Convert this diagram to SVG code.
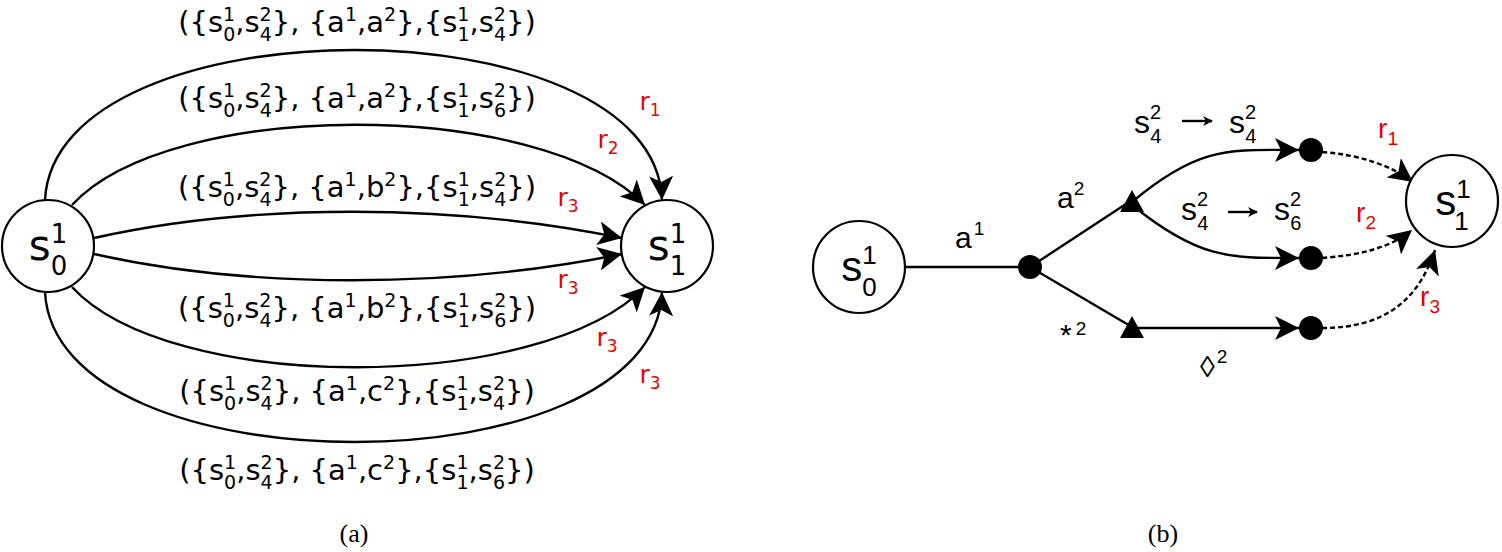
<svg xmlns="http://www.w3.org/2000/svg" width="1502" height="552" viewBox="0 0 1502 552">
<style>
text{font-family:"DejaVu Sans",sans-serif;fill:#000}
.l{font-size:29px;text-anchor:middle}
.s{font-size:19px}
.r{font-size:25px;fill:#e00;text-anchor:middle}
.rb{font-family:"Liberation Sans",sans-serif;font-size:28px;fill:#e00;text-anchor:middle}
.b{font-family:"Liberation Sans",sans-serif}
.cap{font-family:"Liberation Serif",serif;font-size:26px;text-anchor:middle}
.n{fill:#fff;stroke:#000;stroke-width:2.2}
.e{fill:none;stroke:#000;stroke-width:2.4}
.d{fill:none;stroke:#000;stroke-width:2.4;stroke-dasharray:5,3}
</style>
<defs>
<marker id="a" viewBox="0 0 10 10" refX="9" refY="5" markerWidth="12" markerHeight="10" markerUnits="userSpaceOnUse" orient="auto"><path d="M0,0 L10,5 L0,10 L3,5z" fill="#000"/></marker>
<marker id="b" viewBox="0 0 10 10" refX="10" refY="5" markerWidth="24" markerHeight="24" markerUnits="userSpaceOnUse" orient="auto"><path d="M0,0 L10,5 L0,10 L2.5,5z" fill="#000"/></marker>
</defs>
<g id="edges">
<path class="e" marker-end="url(#b)" d="M45,200 C55,0 655,0 662,200"/>
<path class="e" marker-end="url(#b)" d="M72,205 C170,98 540,98 645,205"/>
<path class="e" marker-end="url(#b)" d="M94,238 C250,203 450,203 622,238"/>
<path class="e" marker-end="url(#b)" d="M94,254 C250,289 450,289 622,254"/>
<path class="e" marker-end="url(#b)" d="M72,287 C170,394 540,394 645,287"/>
<path class="e" marker-end="url(#b)" d="M45,292 C55,492 655,492 662,292"/>
<path class="e" d="M905,267 L1030,267 L1132,200 M1030,267 L1132,327"/>
<path class="e" marker-end="url(#b)" d="M1132,202 C1200,145 1230,150 1299,150"/>
<path class="e" marker-end="url(#b)" d="M1132,205 C1200,260 1230,258 1299,258"/>
<path class="e" marker-end="url(#b)" d="M1132,328 L1299,328"/>
<path class="d" marker-end="url(#b)" d="M1322,152 C1360,155 1390,165 1413,182"/>
<path class="d" marker-end="url(#b)" d="M1322,258 C1360,255 1390,248 1412,230"/>
<path class="d" marker-end="url(#b)" d="M1322,328 C1390,328 1420,295 1435,250"/>
</g>
<g id="s0a"><ellipse class="n" cx="48" cy="246" rx="46" ry="46"/><text x="48" y="260" font-size="42" text-anchor="middle">s<tspan font-size="26" dy="-17">1</tspan><tspan font-size="26" dx="-16.5" dy="32">0</tspan></text></g>
<g id="s1a"><ellipse class="n" cx="667" cy="246" rx="46" ry="46"/><text x="667" y="260" font-size="42" text-anchor="middle">s<tspan font-size="26" dy="-17">1</tspan><tspan font-size="26" dx="-16.5" dy="32">1</tspan></text></g>
<g id="labels">
<text class="l" x="357" y="32">({s<tspan class="s" dy="-11">1</tspan><tspan class="s" dx="-12" dy="20">0</tspan><tspan dy="-9">,s</tspan><tspan class="s" dy="-11">2</tspan><tspan class="s" dx="-12" dy="20">4</tspan><tspan dy="-9">}, {a</tspan><tspan class="s" dy="-11">1</tspan><tspan dy="11">,a</tspan><tspan class="s" dy="-11">2</tspan><tspan dy="11">},{s</tspan><tspan class="s" dy="-11">1</tspan><tspan class="s" dx="-12" dy="20">1</tspan><tspan dy="-9">,s</tspan><tspan class="s" dy="-11">2</tspan><tspan class="s" dx="-12" dy="20">4</tspan><tspan dy="-9">})</tspan></text>
<text class="l" x="357" y="108">({s<tspan class="s" dy="-11">1</tspan><tspan class="s" dx="-12" dy="20">0</tspan><tspan dy="-9">,s</tspan><tspan class="s" dy="-11">2</tspan><tspan class="s" dx="-12" dy="20">4</tspan><tspan dy="-9">}, {a</tspan><tspan class="s" dy="-11">1</tspan><tspan dy="11">,a</tspan><tspan class="s" dy="-11">2</tspan><tspan dy="11">},{s</tspan><tspan class="s" dy="-11">1</tspan><tspan class="s" dx="-12" dy="20">1</tspan><tspan dy="-9">,s</tspan><tspan class="s" dy="-11">2</tspan><tspan class="s" dx="-12" dy="20">6</tspan><tspan dy="-9">})</tspan></text>
<text class="l" x="357" y="197">({s<tspan class="s" dy="-11">1</tspan><tspan class="s" dx="-12" dy="20">0</tspan><tspan dy="-9">,s</tspan><tspan class="s" dy="-11">2</tspan><tspan class="s" dx="-12" dy="20">4</tspan><tspan dy="-9">}, {a</tspan><tspan class="s" dy="-11">1</tspan><tspan dy="11">,b</tspan><tspan class="s" dy="-11">2</tspan><tspan dy="11">},{s</tspan><tspan class="s" dy="-11">1</tspan><tspan class="s" dx="-12" dy="20">1</tspan><tspan dy="-9">,s</tspan><tspan class="s" dy="-11">2</tspan><tspan class="s" dx="-12" dy="20">4</tspan><tspan dy="-9">})</tspan></text>
<text class="l" x="357" y="318">({s<tspan class="s" dy="-11">1</tspan><tspan class="s" dx="-12" dy="20">0</tspan><tspan dy="-9">,s</tspan><tspan class="s" dy="-11">2</tspan><tspan class="s" dx="-12" dy="20">4</tspan><tspan dy="-9">}, {a</tspan><tspan class="s" dy="-11">1</tspan><tspan dy="11">,b</tspan><tspan class="s" dy="-11">2</tspan><tspan dy="11">},{s</tspan><tspan class="s" dy="-11">1</tspan><tspan class="s" dx="-12" dy="20">1</tspan><tspan dy="-9">,s</tspan><tspan class="s" dy="-11">2</tspan><tspan class="s" dx="-12" dy="20">6</tspan><tspan dy="-9">})</tspan></text>
<text class="l" x="357" y="401">({s<tspan class="s" dy="-11">1</tspan><tspan class="s" dx="-12" dy="20">0</tspan><tspan dy="-9">,s</tspan><tspan class="s" dy="-11">2</tspan><tspan class="s" dx="-12" dy="20">4</tspan><tspan dy="-9">}, {a</tspan><tspan class="s" dy="-11">1</tspan><tspan dy="11">,c</tspan><tspan class="s" dy="-11">2</tspan><tspan dy="11">},{s</tspan><tspan class="s" dy="-11">1</tspan><tspan class="s" dx="-12" dy="20">1</tspan><tspan dy="-9">,s</tspan><tspan class="s" dy="-11">2</tspan><tspan class="s" dx="-12" dy="20">4</tspan><tspan dy="-9">})</tspan></text>
<text class="l" x="357" y="480">({s<tspan class="s" dy="-11">1</tspan><tspan class="s" dx="-12" dy="20">0</tspan><tspan dy="-9">,s</tspan><tspan class="s" dy="-11">2</tspan><tspan class="s" dx="-12" dy="20">4</tspan><tspan dy="-9">}, {a</tspan><tspan class="s" dy="-11">1</tspan><tspan dy="11">,c</tspan><tspan class="s" dy="-11">2</tspan><tspan dy="11">},{s</tspan><tspan class="s" dy="-11">1</tspan><tspan class="s" dx="-12" dy="20">1</tspan><tspan dy="-9">,s</tspan><tspan class="s" dy="-11">2</tspan><tspan class="s" dx="-12" dy="20">6</tspan><tspan dy="-9">})</tspan></text>
<text class="r" x="650" y="110">r<tspan font-size="17" dy="6">1</tspan></text>
<text class="r" x="608" y="148">r<tspan font-size="17" dy="6">2</tspan></text>
<text class="r" x="568" y="206">r<tspan font-size="17" dy="6">3</tspan></text>
<text class="r" x="568" y="288">r<tspan font-size="17" dy="6">3</tspan></text>
<text class="r" x="607" y="346">r<tspan font-size="17" dy="6">3</tspan></text>
<text class="r" x="650" y="383">r<tspan font-size="17" dy="6">3</tspan></text>
</g>
<g id="s0b"><ellipse class="n" cx="859" cy="267" rx="46" ry="46"/><text class="b" x="859" y="281" font-size="42" text-anchor="middle">s<tspan font-size="26" dy="-17">1</tspan><tspan font-size="26" dx="-14.5" dy="32">0</tspan></text></g>
<g id="s1b"><ellipse class="n" cx="1452" cy="201" rx="46" ry="46"/><text class="b" x="1452" y="215" font-size="42" text-anchor="middle">s<tspan font-size="26" dy="-17">1</tspan><tspan font-size="26" dx="-14.5" dy="32">1</tspan></text></g>
<g id="c0"><circle cx="1030" cy="267" r="12"/></g>
<g id="t1"><path d="M1120,212 L1132,190 L1144,212z"/></g>
<g id="t2"><path d="M1120,338 L1132,316 L1144,338z"/></g>
<g id="c1"><circle cx="1311" cy="150" r="12"/></g>
<g id="c2"><circle cx="1311" cy="258" r="12"/></g>
<g id="c3"><circle cx="1311" cy="328" r="12"/></g>
<g id="labels-b" class="b" font-size="30">
<text class="b" x="955" y="248">a<tspan font-size="19" dx="2" dy="-13">1</tspan></text>
<text class="b" x="1057" y="208">a<tspan font-size="19" dy="-13">2</tspan></text>
<text class="b" x="1060" y="345">*<tspan font-size="19" dx="4" dy="-10">2</tspan></text>
<text class="b" x="1200" y="377">◊<tspan font-size="19" dx="2" dy="-14">2</tspan></text>
<text class="b" font-size="32" x="1134" y="133">s<tspan font-size="20" dy="-14">2</tspan><tspan font-size="20" dx="-11" dy="24">4</tspan></text>
<text class="b" font-size="32" x="1229" y="133">s<tspan font-size="20" dy="-14">2</tspan><tspan font-size="20" dx="-11" dy="24">4</tspan></text>
<text class="b" font-size="32" x="1181" y="220">s<tspan font-size="20" dy="-14">2</tspan><tspan font-size="20" dx="-11" dy="24">4</tspan></text>
<text class="b" font-size="32" x="1274" y="220">s<tspan font-size="20" dy="-14">2</tspan><tspan font-size="20" dx="-11" dy="24">6</tspan></text>
<path class="e" marker-end="url(#a)" d="M1182,121 L1212,121"/>
<path class="e" marker-end="url(#a)" d="M1228,212 L1257,212"/>
<text class="rb" x="1388" y="138">r<tspan font-size="19" dy="7">1</tspan></text>
<text class="rb" x="1366" y="222">r<tspan font-size="19" dy="7">2</tspan></text>
<text class="rb" x="1430" y="306">r<tspan font-size="19" dy="7">3</tspan></text>
</g>
<text class="cap" x="354" y="542">(a)</text>
<text class="cap" x="1163" y="542">(b)</text>
</svg>
